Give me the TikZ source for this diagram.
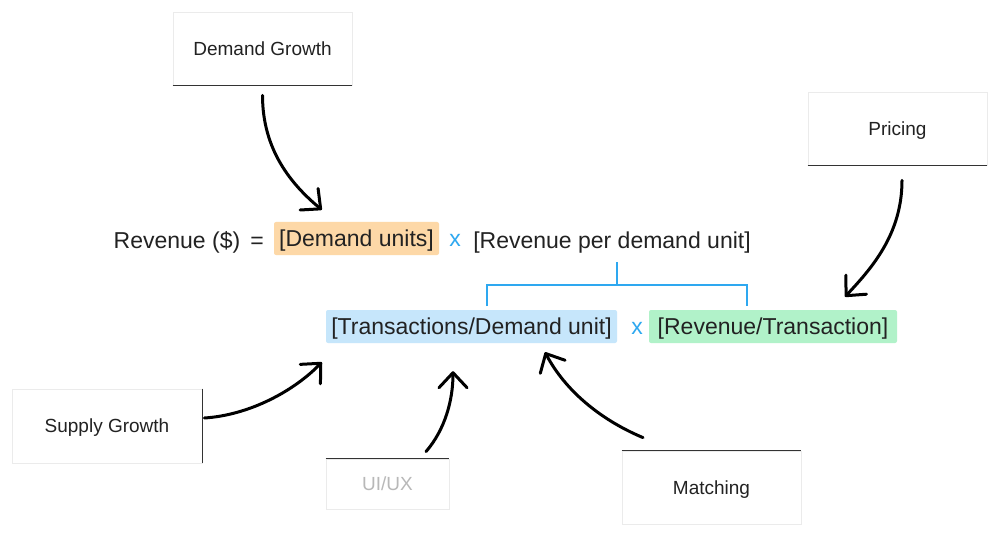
\documentclass[tikz,border=0pt]{standalone}
\usepackage{fontspec}
\setmainfont{Liberation Sans}
\usetikzlibrary{arrows.meta,calc}
\definecolor{txt}{HTML}{222222}
\definecolor{orangebg}{HTML}{FDD8A7}
\definecolor{bluebg}{HTML}{C6E6FB}
\definecolor{greenbg}{HTML}{B1F2C9}
\definecolor{bracket}{HTML}{2EA8F0}
\definecolor{edge}{HTML}{333333}
\tikzset{
  card/.style={draw=black!8, fill=white, line width=0.8pt, text=txt, font=\fontsize{19}{22}\selectfont, inner sep=0pt, text height=13.6pt, text depth=0pt},
  eq/.style={text=txt, font=\fontsize{23}{27}\selectfont, inner sep=0pt, text height=16.5pt, text depth=0pt},
  hl/.style={eq, rounded corners=2pt, minimum height=33pt},
  times/.style={text=bracket, font=\fontsize{23}{27}\selectfont, inner sep=0pt},
  darkedge/.style={draw=edge, line width=1.5pt},
  hand/.style={line width=3pt, line cap=round, -{Straight Barb[length=15pt, width=28pt, line cap=round, round]}},
  brk/.style={draw=bracket, line width=1.6pt}
}
\begin{document}
\begin{tikzpicture}[x=1pt,y=-1pt]
\useasboundingbox[fill=white] (0,0) rectangle (1000,537);
% cards
\node[card, minimum width=179pt, minimum height=73pt] (dg) at (262.5,48.5) {Demand Growth};
\node[card, minimum width=179pt, minimum height=73pt] (pr) at (897.5,128.5) {Pricing};
\node[card, minimum width=190pt, minimum height=74pt] (sg) at (107,426) {Supply Growth};
\node[card, minimum width=123pt, minimum height=50pt, text=black!28] (ux) at (387.5,484) {UI/UX};
\node[card, minimum width=179pt, minimum height=73pt] (ma) at (711.5,487.5) {Matching};
\draw[darkedge] (dg.south west) -- (dg.south east);
\draw[darkedge] (pr.south west) -- (pr.south east);
\draw[darkedge] (sg.north east) -- (sg.south east);
\draw[darkedge] (ux.north west) -- (ux.north east);
\draw[darkedge] (ma.north west) -- (ma.north east);
% equation line 1
\node[eq] (rev) at (177,240) {Revenue (\$)};
\node[eq] (eqs) at (257,240) {=};
\node[hl, fill=orangebg, minimum width=165pt] (du) at (356.5,238.5) {[Demand units]};
\node[times] (x1) at (455,240) {x};
\node[eq] (rpd) at (612,240) {[Revenue per demand unit]};
% equation line 2
\node[hl, fill=bluebg, minimum width=291pt] (tdu) at (471.5,326.5) {[Transactions/Demand unit]};
\node[times] (x2) at (637,328) {x};
\node[hl, fill=greenbg, minimum width=248pt] (rt) at (773,326.5) {[Revenue/Transaction]};
% bracket
\coordinate (bt) at (617,262);
\coordinate (bm) at (617,285);
\coordinate (bl) at (487,285);
\coordinate (br) at (747,285);
\coordinate (bld) at (487,306);
\coordinate (brd) at (747,306);
\draw[brk] (bt) -- (bm);
\draw[brk] (bld) -- (bl) -- (br) -- (brd);
% arrows
\draw[hand] ($(dg.south)+(0,10)$) .. controls +(0,55) and +(-30,-25) .. ($(du.north west)+(48,-12)$);
\draw[hand] ($(pr.south)+(4.5,15)$) .. controls +(0,55) and +(25,-27) .. ($(rt.north)+(72,-13)$);
\draw[hand] ($(sg.east)+(2,-8)$) .. controls +(46,-3) and +(-27,28) .. ($(tdu.south west)+(-4,19)$);
\draw[hand] ($(ux.north)+(38.5,-7)$) .. controls +(19,-22) and +(0,29) .. ($(tdu.south)+(-18.5,28)$);
\draw[hand] ($(ma.north)+(-68.5,-13)$) .. controls +(-43,-18) and +(20,38) .. ($(tdu.south)+(73.5,9)$);
\end{tikzpicture}
\end{document}
